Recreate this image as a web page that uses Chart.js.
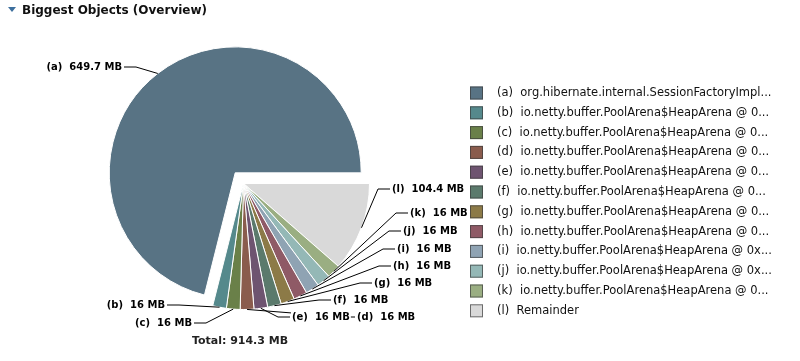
<!DOCTYPE html>
<html>
<head>
<meta charset="utf-8">
<script src="https://cdn.jsdelivr.net/npm/chart.js@4"></script>
<style>
  body { margin: 0; background: #fff; }
  #wrap { position: relative; width: 800px; height: 361px; }
  #title { position: absolute; left: 8px; top: 3px; font: bold 12px "DejaVu Sans", sans-serif; color: #111; }
  #title .tri { display: inline-block; width: 0; height: 0; border-left: 4px solid transparent; border-right: 4px solid transparent;
                border-top: 5px solid #3d6f9e; margin-right: 6px; vertical-align: 2px; }
  canvas { position: absolute; left: 0; top: 0; }
</style>
</head>
<body>
<div id="wrap">
  <canvas id="chart" width="800" height="361"></canvas>
  <div id="title"><span class="tri"></span>Biggest Objects (Overview)</div>
</div>
<script>
// slice keys, names and sizes (MB)
const keys = ['(a)', '(b)', '(c)', '(d)', '(e)', '(f)', '(g)', '(h)', '(i)', '(j)', '(k)', '(l)'];
const names = [
    'org.hibernate.internal.SessionFactoryImpl...',
    'io.netty.buffer.PoolArena$HeapArena @ 0...',
    'io.netty.buffer.PoolArena$HeapArena @ 0...',
    'io.netty.buffer.PoolArena$HeapArena @ 0...',
    'io.netty.buffer.PoolArena$HeapArena @ 0...',
    'io.netty.buffer.PoolArena$HeapArena @ 0...',
    'io.netty.buffer.PoolArena$HeapArena @ 0...',
    'io.netty.buffer.PoolArena$HeapArena @ 0...',
    'io.netty.buffer.PoolArena$HeapArena @ 0x...',
    'io.netty.buffer.PoolArena$HeapArena @ 0x...',
    'io.netty.buffer.PoolArena$HeapArena @ 0...',
    'Remainder'
];
const sizesMB = [649.7, 16, 16, 16, 16, 16, 16, 16, 16, 16, 16, 104.4];
const totalMB = 914.3;

const colors = ['#587384', '#55898c', '#6a8049', '#8a5c4d', '#6e5470', '#5b7a6c',
                '#8c7a47', '#8f5a66', '#8fa3b3', '#94b8b6', '#9aae82', '#d9d9d9'];

// how far each slice is pulled out of the pie (px)
const explode = [13.5, 0, 0, 0, 0, 0, 0, 0, 0, 0, 0, 0];

// where each value label sits (text anchor), and which side of it the leader comes from
const labelPos = [
    {x: 122, y: 67, side: 'left'},
    {x: 165, y: 305, side: 'left'},
    {x: 192, y: 323, side: 'left'},
    {x: 357, y: 317, side: 'right'},
    {x: 292, y: 317, side: 'right'},
    {x: 333, y: 300, side: 'right'},
    {x: 374, y: 283, side: 'right'},
    {x: 393, y: 266, side: 'right'},
    {x: 397, y: 249, side: 'right'},
    {x: 403, y: 231, side: 'right'},
    {x: 410, y: 213, side: 'right'},
    {x: 392, y: 189, side: 'right'}
];

// the pie runs counter-clockwise a..l, Chart.js draws clockwise, so feed it reversed
const order = keys.map((k, i) => i).reverse();

// pull slices out without growing their radius (Chart.js offset also enlarges the arc)
const explodePlugin = {
    id: 'explode',
    afterUpdate(chart) {
        const meta = chart.getDatasetMeta(0);
        meta.data.forEach((arc, k) => {
            const d = explode[order[k]];
            if (!d || arc._exploded) return;
            const draw = arc.draw;
            arc.draw = function (ctx) {
                const mid = (this.startAngle + this.endAngle) / 2;
                ctx.save();
                ctx.translate(Math.cos(mid) * d, Math.sin(mid) * d);
                draw.call(this, ctx);
                ctx.restore();
            };
            arc._exploded = true;
        });
    }
};

const labelsPlugin = {
    id: 'sliceLabels',
    afterDatasetsDraw(chart) {
        const ctx = chart.ctx;
        const meta = chart.getDatasetMeta(0);
        const items = [];
        meta.data.forEach((arc, k) => {
            const i = order[k];
            const mid = (arc.startAngle + arc.endAngle) / 2;
            const r = arc.outerRadius + explode[i];
            items.push({
                i: i,
                px: arc.x + Math.cos(mid) * r,
                py: arc.y + Math.sin(mid) * r
            });
        });

        ctx.save();
        ctx.strokeStyle = '#000';
        ctx.lineWidth = 1;
        items.forEach(it => {
            const p = labelPos[it.i];
            const dir = p.side === 'right' ? -1 : 1;
            ctx.beginPath();
            ctx.moveTo(it.px, it.py);
            ctx.lineTo(p.x + dir * 14, p.y);
            ctx.lineTo(p.x + dir * 2, p.y);
            ctx.stroke();
        });

        ctx.font = 'bold 10px "DejaVu Sans", sans-serif';
        ctx.textBaseline = 'middle';
        items.forEach(it => {
            const p = labelPos[it.i];
            const txt = keys[it.i] + '  ' + sizesMB[it.i] + ' MB';
            const w = ctx.measureText(txt).width;
            const x0 = p.side === 'right' ? p.x : p.x - w;
            ctx.fillStyle = '#fff';
            ctx.fillRect(x0 - 1, p.y - 6, w + 2, 12);
            ctx.fillStyle = '#000';
            ctx.textAlign = 'left';
            ctx.fillText(txt, x0, p.y);
        });

        // total under the pie
        ctx.font = 'bold 11px "DejaVu Sans", sans-serif';
        ctx.textAlign = 'center';
        ctx.fillStyle = '#222';
        ctx.fillText('Total: ' + totalMB + ' MB', 240, 341);

        // legend
        ctx.font = '11.5px "DejaVu Sans", sans-serif';
        ctx.textAlign = 'left';
        keys.forEach((k, i) => {
            const y = 93 + i * 19.8;
            ctx.fillStyle = colors[i];
            ctx.fillRect(470, y - 6.5, 13, 13);
            ctx.strokeStyle = 'rgba(60,60,60,0.7)';
            ctx.strokeRect(470.5, y - 6, 12, 12);
            ctx.fillStyle = '#111';
            ctx.fillText(k + '  ' + names[i], 497, y);
        });
        ctx.restore();
    }
};

new Chart(document.getElementById('chart'), {
    type: 'pie',
    data: {
        labels: order.map(i => keys[i]),
        datasets: [{
            data: order.map(i => sizesMB[i]),
            backgroundColor: order.map(i => colors[i]),
            borderColor: '#fff',
            borderWidth: 1
        }]
    },
    options: {
        responsive: false,
        animation: false,
        rotation: 90,
        radius: 126,
        layout: { padding: { left: 93.5, right: 406.5, top: 33.5, bottom: 27.5 } },
        plugins: {
            legend: { display: false },
            tooltip: { enabled: false }
        }
    },
    plugins: [explodePlugin, labelsPlugin]
});
</script>
</body>
</html>
